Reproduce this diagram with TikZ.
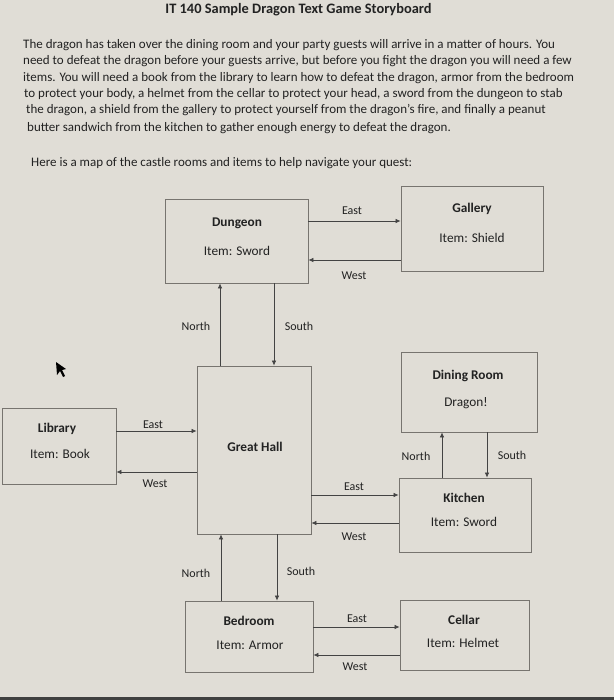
\documentclass[tikz,border=0pt]{standalone}
\usepackage{fontspec}
\setmainfont{Carlito}
\usetikzlibrary{arrows.meta}
\definecolor{bg}{HTML}{E0DDD6}
\definecolor{edge}{HTML}{77746F}
\definecolor{ink}{HTML}{222222}
\begin{document}
\begin{tikzpicture}[x=1pt,y=-1pt,
  room/.style={draw=edge, line width=0.8pt, fill=bg, inner sep=0pt},
  conn/.style={draw=ink!85, line width=0.7pt, -{Latex[length=5pt,width=4.5pt]}},
  dir/.style={font=\fontsize{12}{14}\selectfont, text=ink, inner sep=0pt},
  rname/.style={font=\bfseries\fontsize{13.3}{15}\selectfont, text=ink, inner sep=0pt},
  ritem/.style={font=\fontsize{13.3}{15}\selectfont, text=ink, inner sep=0pt},
  para/.style={font=\fontsize{13}{15}\selectfont, anchor=west, inner sep=0pt, text=ink}]
\fill[bg] (0,0) rectangle (614,700);
\useasboundingbox (0,0) rectangle (614,700);
\fill[black!75] (0,697) rectangle (614,700);

% title and text
\node[font=\bfseries\fontsize{14.4}{16}\selectfont, text=ink, inner sep=0pt] (title) at (298.5,10) {IT 140 Sample Dragon Text Game Storyboard};
\node[para] (p1) at (23,45.5) {The dragon has taken over the dining room and your party guests will arrive in a matter of hours. You};
\node[para] (p2) at (23,61.5) {need to defeat the dragon before your guests arrive, but before you fight the dragon you will need a few};
\node[para] (p3) at (23,78) {items. You will need a book from the library to learn how to defeat the dragon, armor from the bedroom};
\node[para] (p4) at (24,94.5) {to protect your body, a helmet from the cellar to protect your head, a sword from the dungeon to stab};
\node[para] (p5) at (26,110) {the dragon, a shield from the gallery to protect yourself from the dragon’s fire, and finally a peanut};
\node[para] (p6) at (27,128) {butter sandwich from the kitchen to gather enough energy to defeat the dragon.};
\node[para] (p7) at (31,163) {Here is a map of the castle rooms and items to help navigate your quest:};

% cursor
\fill[black] (56,362) -- (57,375) -- (60,371) -- (63,377) -- (65,376) -- (62,370) -- (66,369) -- cycle;

% rooms
\node[room, minimum width=143pt, minimum height=84pt] (dun) at (236.5,241) {};
\node[room, minimum width=142pt, minimum height=85pt] (gal) at (472,228.5) {};
\node[room, minimum width=114pt, minimum height=168pt] (gh) at (254,450) {};
\node[room, minimum width=114pt, minimum height=76pt] (lib) at (59,446) {};
\node[room, minimum width=136pt, minimum height=80pt] (din) at (469,392) {};
\node[room, minimum width=132pt, minimum height=74pt] (kit) at (465,515) {};
\node[room, minimum width=128pt, minimum height=71pt] (bed) at (249,636.5) {};
\node[room, minimum width=129pt, minimum height=70pt] (cel) at (464.5,635) {};

% room texts
\node[rname] (dunN) at (237,223) {Dungeon};
\node[ritem] (dunI) at (237,251) {Item: Sword};
\node[rname] (galN) at (472,209) {Gallery};
\node[ritem] (galI) at (472,238) {Item: Shield};
\node[rname] (ghN) at (255,447) {Great Hall};
\node[rname] (libN) at (57,429) {Library};
\node[ritem] (libI) at (60,454) {Item: Book};
\node[rname] (dinN) at (468,376) {Dining Room};
\node[ritem] (dinI) at (466,403) {Dragon!};
\node[rname] (kitN) at (464,498) {Kitchen};
\node[ritem] (kitI) at (464,522) {Item: Sword};
\node[rname] (bedN) at (249,621) {Bedroom};
\node[ritem] (bedI) at (250,645) {Item: Armor};
\node[rname] (celN) at (464,620) {Cellar};
\node[ritem] (celI) at (463,643) {Item: Helmet};

% connectors
\draw[conn] ([yshift=20pt]dun.east) coordinate (c1) -- (c1 -| gal.west);
\draw[conn] ([yshift=-31.5pt]gal.west) coordinate (c2) -- (c2 -| dun.east);
\draw[conn] ([xshift=-34pt]gh.north) coordinate (c3) -- (c3 |- dun.south);
\draw[conn] ([xshift=37.5pt]dun.south) coordinate (c4) -- (c4 |- gh.north);
\draw[conn] ([yshift=15pt]lib.east) coordinate (c5) -- (c5 -| gh.west);
\draw[conn] ([yshift=-22pt]gh.west) coordinate (c6) -- (c6 -| lib.east);
\draw[conn] ([xshift=-23pt]kit.north) coordinate (c7) -- (c7 |- din.south);
\draw[conn] ([xshift=18pt]din.south) coordinate (c8) -- (c8 |- kit.north);
\draw[conn] ([yshift=-45pt]gh.east) coordinate (c9) -- (c9 -| kit.west);
\draw[conn] ([yshift=-8pt]kit.west) coordinate (c10) -- (c10 -| gh.east);
\draw[conn] ([xshift=-28pt]bed.north) coordinate (c11) -- (c11 |- gh.south);
\draw[conn] ([xshift=23pt]gh.south) coordinate (c12) -- (c12 |- bed.north);
\draw[conn] ([yshift=9.5pt]bed.east) coordinate (c13) -- (c13 -| cel.west);
\draw[conn] ([yshift=-20pt]cel.west) coordinate (c14) -- (c14 -| bed.east);

% direction labels
\node[dir] (l1) at (352,211) {East};
\node[dir] (l2) at (354,276) {West};
\node[dir] (l3) at (196,326) {North};
\node[dir] (l4) at (299,326) {South};
\node[dir] (l5) at (153,425) {East};
\node[dir] (l6) at (155,484) {West};
\node[dir] (l7) at (354,487) {East};
\node[dir] (l8) at (354,537) {West};
\node[dir] (l9) at (416,456) {North};
\node[dir] (l10) at (512,455) {South};
\node[dir] (l11) at (196,573) {North};
\node[dir] (l12) at (301,571) {South};
\node[dir] (l13) at (357,619) {East};
\node[dir] (l14) at (355,667) {West};
\end{tikzpicture}
\end{document}
